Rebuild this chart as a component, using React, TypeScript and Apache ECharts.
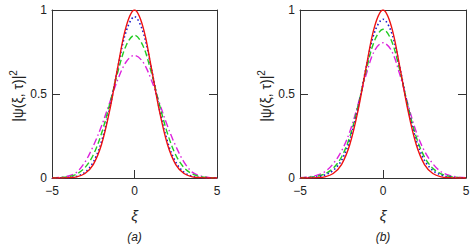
import React, { useEffect, useRef } from "react";
import * as echarts from "echarts";

const xs = [-5, -4.5, -4, -3.5, -3, -2.5, -2, -1.5, -1, -0.5, 0, 0.5, 1, 1.5, 2, 2.5, 3, 3.5, 4, 4.5, 5];

const redA = [0, 0, 0.002, 0.007, 0.027, 0.08, 0.199, 0.404, 0.668, 0.904, 1.0, 0.904, 0.668, 0.404, 0.199, 0.08, 0.027, 0.007, 0.002, 0, 0];
const blueA = [0, 0.0005, 0.0025, 0.01, 0.034, 0.094, 0.217, 0.416, 0.662, 0.875, 0.96, 0.875, 0.662, 0.416, 0.217, 0.094, 0.034, 0.01, 0.0025, 0.0005, 0];
const greenA = [0.0006, 0.0023, 0.008, 0.024, 0.062, 0.137, 0.265, 0.441, 0.635, 0.79, 0.85, 0.79, 0.635, 0.441, 0.265, 0.137, 0.062, 0.024, 0.008, 0.0023, 0.0006];
const magentaA = [0.001, 0.004, 0.012, 0.035, 0.095, 0.19, 0.309, 0.45, 0.589, 0.692, 0.73, 0.692, 0.589, 0.45, 0.309, 0.19, 0.095, 0.035, 0.012, 0.004, 0.001];

const redB = [0, 0, 0.002, 0.007, 0.027, 0.08, 0.199, 0.404, 0.668, 0.904, 1.0, 0.904, 0.668, 0.404, 0.199, 0.08, 0.027, 0.007, 0.002, 0, 0];
const blueB = [0, 0.002, 0.006, 0.018, 0.045, 0.105, 0.225, 0.42, 0.665, 0.87, 0.945, 0.87, 0.665, 0.42, 0.225, 0.105, 0.045, 0.018, 0.006, 0.002, 0];
const greenB = [0.001, 0.004, 0.01, 0.025, 0.058, 0.125, 0.245, 0.43, 0.645, 0.82, 0.885, 0.82, 0.645, 0.43, 0.245, 0.125, 0.058, 0.025, 0.01, 0.004, 0.001];
const magentaB = [0.002, 0.006, 0.016, 0.037, 0.085, 0.16, 0.275, 0.44, 0.62, 0.76, 0.805, 0.76, 0.62, 0.44, 0.275, 0.16, 0.085, 0.037, 0.016, 0.006, 0.002];

const xTicks = [-5, 0, 5];
const yTicks = [0, 0.5, 1];
const panelLabels = ["(a)", "(b)"];
const yLabel = "|ψ(ξ, τ)|";
const xLabel = "ξ";

const AXIS_COLOR = "#333";
const LABEL_COLOR = "#222";
const SANS = "'Liberation Sans', Arial, sans-serif";

const grids = [
  { left: 52, top: 10, width: 165, height: 168 },
  { left: 300, top: 10, width: 166, height: 168 },
];

export default function App() {
  const ref = useRef<HTMLDivElement>(null);
  useEffect(() => {
    if (!ref.current) return;
    const chart = echarts.init(ref.current, null, { renderer: "svg" });
    const xAxes: any[] = [];
    const yAxes: any[] = [];
    grids.forEach((_, gi) => {
      xAxes.push({
        type: "value",
        gridIndex: gi,
        min: -5,
        max: 5,
        interval: 5,
        position: "bottom",
        axisLine: { show: true, onZero: false, lineStyle: { color: AXIS_COLOR, width: 1 } },
        axisTick: { show: true, inside: true, length: 8, lineStyle: { color: AXIS_COLOR } },
        axisLabel: {
          color: LABEL_COLOR,
          fontFamily: SANS,
          fontSize: 12,
          lineHeight: 12,
          margin: 7,
          formatter: (v: number) => (xTicks.includes(v) ? String(v).replace("-", "−") : ""),
        },
        splitLine: { show: false },
      });
      xAxes.push({
        type: "value",
        gridIndex: gi,
        min: -5,
        max: 5,
        interval: 5,
        position: "top",
        axisLine: { show: true, onZero: false, lineStyle: { color: AXIS_COLOR, width: 1 } },
        axisTick: { show: false },
        axisLabel: { show: false },
        splitLine: { show: false },
      });
      yAxes.push({
        type: "value",
        gridIndex: gi,
        min: 0,
        max: 1,
        interval: 0.5,
        position: "left",
        axisLine: { show: true, onZero: false, lineStyle: { color: AXIS_COLOR, width: 1 } },
        axisTick: { show: true, inside: true, length: 8, lineStyle: { color: AXIS_COLOR } },
        axisLabel: {
          color: LABEL_COLOR,
          fontFamily: SANS,
          fontSize: 12,
          lineHeight: 12,
          margin: 5,
          formatter: (v: number) => (yTicks.includes(v) ? String(v) : ""),
        },
        splitLine: { show: false },
      });
      yAxes.push({
        type: "value",
        gridIndex: gi,
        min: 0,
        max: 1,
        interval: 0.5,
        position: "right",
        axisLine: { show: true, onZero: false, lineStyle: { color: AXIS_COLOR, width: 1 } },
        axisTick: { show: true, inside: true, length: 8, lineStyle: { color: AXIS_COLOR } },
        axisLabel: { show: false },
        splitLine: { show: false },
      });
    });

    const mk = (vals: number[], gi: number, color: string, type: any, width: number, z: number) => ({
      type: "line",
      xAxisIndex: gi * 2,
      yAxisIndex: gi * 2,
      data: xs.map((x, i) => [x, vals[i]]),
      smooth: 0.35,
      symbol: "none",
      z,
      lineStyle: { color, type, width },
    });

    const magentaDash = [7, 3, 1.5, 3];
    const greenDash = [6, 3];
    const blueDot = [1.5, 2.5];

    const series = [
      mk(magentaA, 0, "#dd22dd", magentaDash, 1.4, 2),
      mk(greenA, 0, "#22cc22", greenDash, 1.4, 3),
      mk(blueA, 0, "#1a1acc", blueDot, 1.6, 4),
      mk(redA, 0, "#ee1111", "solid", 1.4, 5),
      mk(magentaB, 1, "#dd22dd", magentaDash, 1.4, 2),
      mk(greenB, 1, "#22cc22", greenDash, 1.4, 3),
      mk(blueB, 1, "#1a1acc", blueDot, 1.6, 4),
      mk(redB, 1, "#ee1111", "solid", 1.4, 5),
    ];

    const yLabelX = [18, 266];
    const graphic: any[] = [];
    grids.forEach((g, gi) => {
      const cx = g.left + g.width / 2;
      graphic.push({
        type: "text",
        x: yLabelX[gi],
        y: 96,
        rotation: Math.PI / 2,
        style: {
          text: yLabel + "{s|2}",
          fontFamily: SANS,
          fontSize: 14,
          fill: LABEL_COLOR,
          align: "center",
          verticalAlign: "middle",
          rich: { s: { fontSize: 10, fontFamily: SANS, fill: LABEL_COLOR, padding: [0, 0, 10, 0] } },
        },
      });
      graphic.push({
        type: "text",
        x: cx,
        y: 215,
        style: {
          text: xLabel,
          fontFamily: SANS,
          fontStyle: "italic",
          fontSize: 15,
          fill: LABEL_COLOR,
          align: "center",
          verticalAlign: "middle",
        },
      });
      graphic.push({
        type: "text",
        x: cx,
        y: 237,
        style: {
          text: panelLabels[gi],
          fontFamily: SANS,
          fontStyle: "italic",
          fontSize: 12,
          fill: LABEL_COLOR,
          align: "center",
          verticalAlign: "middle",
        },
      });
    });

    chart.setOption({
      animation: false,
      backgroundColor: "#ffffff",
      grid: grids.map((g) => ({ ...g, containLabel: false })),
      xAxis: xAxes,
      yAxis: yAxes,
      series,
      graphic,
    });
    return () => chart.dispose();
  }, []);
  return (
    <div
      ref={ref}
      style={{ position: "fixed", left: 0, top: 0, width: 474, height: 248 }}
    />
  );
}
